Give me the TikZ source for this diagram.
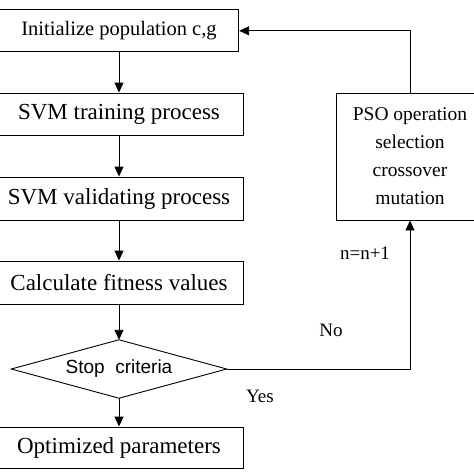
\documentclass[tikz,border=0pt]{standalone}
\usepackage{fontspec}
\setmainfont{Liberation Serif}
\newfontfamily\diafont{Liberation Sans}
\usepackage{tikz}
\usetikzlibrary{arrows.meta}
\tikzset{
	procbox/.style={draw=black,line width=0.9pt,minimum height=42pt,inner sep=0pt,
		font=\fontsize{23}{27}\selectfont},
	decision/.style={minimum width=215pt,minimum height=58pt,inner sep=0pt,
		font=\diafont\fontsize{19}{23}\selectfont},
	diaedge/.style={draw=black,line width=0.9pt,line join=miter},
	flowarrow/.style={-{Triangle[length=10pt,width=9pt]},line width=0.9pt},
	lbl/.style={font=\fontsize{19}{23}\selectfont,inner sep=0pt}
}
\begin{document}
\begin{tikzpicture}[x=1pt,y=-1pt]
			\useasboundingbox (0,0) rectangle (474,474);
			\clip (0,0) rectangle (474,474);
			\node[procbox,minimum width=239.4pt,font=\fontsize{20.5}{24}\selectfont] (init) at (119,30.8) {Initialize population c,g};
			\node[procbox,minimum width=248pt] (train) at (119,114) {SVM training process};
			\node[procbox,minimum width=248pt,minimum height=43pt] (valid) at (119,198.5) {SVM validating process};
			\node[procbox,minimum width=248pt,minimum height=43pt] (fit) at (119,282.5) {Calculate fitness values};
			\node[decision] (stop) at (119,369) {Stop\ \ criteria};
			\draw[diaedge] (stop.north) -- (stop.east) -- (stop.south) -- (stop.west) -- cycle;
			\node[procbox,minimum width=248pt,minimum height=41pt] (opt) at (119,447.5) {Optimized parameters};
			\node[procbox,minimum width=148pt,minimum height=127pt,align=center,
				font=\fontsize{19.5}{28}\selectfont] (pso) at (410,156.5)
				{PSO operation\\selection\\crossover\\mutation};
			\draw[flowarrow] (init) -- (train);
			\draw[flowarrow] (train) -- (valid);
			\draw[flowarrow] (valid) -- (fit);
			\draw[flowarrow] (fit) -- (stop);
			\draw[flowarrow] (stop) -- (opt);
			\draw[flowarrow] (stop.east) -| (pso.south);
			\draw[flowarrow] (pso.north) |- (init.east);
			\node[lbl] (count) at (365,253) {n=n+1};
			\node[lbl] (no) at (331,330) {No};
			\node[lbl] (yes) at (260,396) {Yes};
		\end{tikzpicture}
\end{document}
